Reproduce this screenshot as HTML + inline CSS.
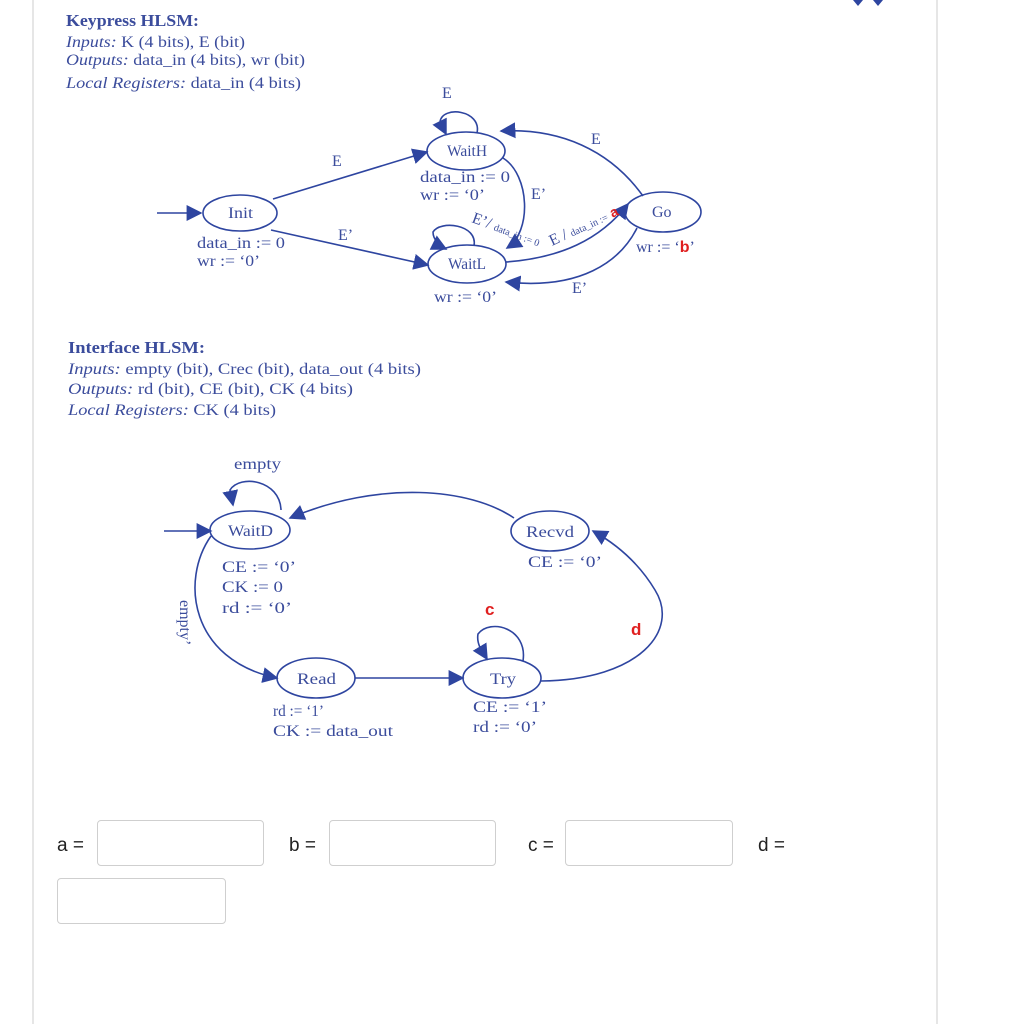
<!DOCTYPE html>
<html><head><meta charset="utf-8"><style>
html,body{margin:0;padding:0;background:#fff;}
body{width:1013px;height:1024px;position:relative;overflow:hidden;}
svg{position:absolute;left:0;top:0;}
.t{font-family:"Liberation Serif",serif;fill:#3b4c9c;font-size:16px;}
.lab{position:absolute;font-family:"Liberation Sans",sans-serif;font-size:19px;color:#222;}
.box{position:absolute;border:1px solid #cfcfcf;border-radius:4px;background:#fff;}
</style></head><body>
<svg width="1013" height="1024" viewBox="0 0 1013 1024">
<defs>
<marker id="ah" viewBox="0 0 10 10" refX="9" refY="5" markerWidth="16" markerHeight="16" markerUnits="userSpaceOnUse" orient="auto"><path d="M0,0 L10,5 L0,10 z" fill="#2e45a0"/></marker>
</defs>
<line x1="33" y1="0" x2="33" y2="1024" stroke="#ddd" stroke-width="1.5"/>
<line x1="937" y1="0" x2="937" y2="1024" stroke="#ddd" stroke-width="1.5"/>
<path d="M853,0 L863,0 L858,6 z M873,0 L883,0 L878,6 z" fill="#2e45a0"/>

<g lengthAdjust="spacingAndGlyphs">
<text class="t" x="66" y="26" style="font-weight:bold;font-size:17px" textLength="133" lengthAdjust="spacingAndGlyphs">Keypress HLSM:</text>
<text class="t" x="66" y="47" textLength="179" lengthAdjust="spacingAndGlyphs"><tspan font-style="italic">Inputs:</tspan> K (4 bits), E (bit)</text>
<text class="t" x="66" y="65" textLength="239" lengthAdjust="spacingAndGlyphs"><tspan font-style="italic">Outputs:</tspan> data_in (4 bits), wr (bit)</text>
<text class="t" x="66" y="88" textLength="235" lengthAdjust="spacingAndGlyphs"><tspan font-style="italic">Local Registers:</tspan> data_in (4 bits)</text>
</g>

<g fill="none" stroke="#2e45a0" stroke-width="1.6">
<ellipse cx="240" cy="213" rx="37" ry="18"/>
<ellipse cx="466" cy="151" rx="39" ry="19"/>
<ellipse cx="467" cy="264" rx="39" ry="19"/>
<ellipse cx="663" cy="212" rx="38" ry="20"/>
<path d="M157,213 L201,213" marker-end="url(#ah)"/>
<path d="M273,199 L427,152" marker-end="url(#ah)"/>
<path d="M271,230 L428,265" marker-end="url(#ah)"/>
<path d="M477,133 C482,110 442,105 440,122 L446,134" marker-end="url(#ah)"/>
<path d="M474,246 C478,224 440,220 433,232 C433,240 440,246 446,249" marker-end="url(#ah)"/>
<path d="M643,196 C610,150 560,128 501,131" marker-end="url(#ah)"/>
<path d="M503,158 C530,175 532,232 507,248" marker-end="url(#ah)"/>
<path d="M506,262 C560,258 600,240 628,204" marker-end="url(#ah)"/>
<path d="M637,228 C620,262 580,290 506,282" marker-end="url(#ah)"/>
</g>
<text class="t" x="228" y="218" textLength="25" lengthAdjust="spacingAndGlyphs">Init</text>
<text class="t" x="447" y="156" textLength="40" lengthAdjust="spacingAndGlyphs">WaitH</text>
<text class="t" x="448" y="269" textLength="38" lengthAdjust="spacingAndGlyphs">WaitL</text>
<text class="t" x="652" y="217">Go</text>
<text class="t" x="197" y="248" textLength="88" lengthAdjust="spacingAndGlyphs">data_in := 0</text>
<text class="t" x="197" y="266" textLength="63" lengthAdjust="spacingAndGlyphs">wr := ‘0’</text>
<text class="t" x="420" y="182" textLength="90" lengthAdjust="spacingAndGlyphs">data_in := 0</text>
<text class="t" x="420" y="200" textLength="65" lengthAdjust="spacingAndGlyphs">wr := ‘0’</text>
<text class="t" x="434" y="302" textLength="63" lengthAdjust="spacingAndGlyphs">wr := ‘0’</text>
<text class="t" x="636" y="252">wr := ‘<tspan fill="#e02020" font-family="Liberation Sans" font-weight="bold">b</tspan>’</text>
<text class="t" x="442" y="98" font-size="13">E</text>
<text class="t" x="332" y="166" font-size="13">E</text>
<text class="t" x="338" y="240" font-size="13">E’</text>
<text class="t" x="591" y="144" font-size="13">E</text>
<text class="t" x="531" y="199" font-size="13">E’</text>
<text class="t" x="572" y="293" font-size="13">E’</text>
<text class="t" x="471" y="222" font-size="13" transform="rotate(20 471 222)">E’/ <tspan font-size="10">data_in := 0</tspan></text>
<text class="t" x="552" y="246" font-size="14" transform="rotate(-25 552 246)">E / <tspan font-size="10">data_in :=</tspan> <tspan fill="#e02020" font-family="Liberation Sans" font-weight="bold" font-size="14">a</tspan></text>

<text class="t" x="68" y="353" style="font-weight:bold;font-size:17px" textLength="137" lengthAdjust="spacingAndGlyphs">Interface HLSM:</text>
<text class="t" x="68" y="374" textLength="353" lengthAdjust="spacingAndGlyphs"><tspan font-style="italic">Inputs:</tspan> empty (bit), Crec (bit), data_out (4 bits)</text>
<text class="t" x="68" y="394" textLength="285" lengthAdjust="spacingAndGlyphs"><tspan font-style="italic">Outputs:</tspan> rd (bit), CE (bit), CK (4 bits)</text>
<text class="t" x="68" y="415" textLength="208" lengthAdjust="spacingAndGlyphs"><tspan font-style="italic">Local Registers:</tspan> CK (4 bits)</text>

<g fill="none" stroke="#2e45a0" stroke-width="1.6">
<ellipse cx="250" cy="530" rx="40" ry="19"/>
<ellipse cx="550" cy="531" rx="39" ry="20"/>
<ellipse cx="316" cy="678" rx="39" ry="20"/>
<ellipse cx="502" cy="678" rx="39" ry="20"/>
<path d="M164,531 L211,531" marker-end="url(#ah)"/>
<path d="M281,510 C280,480 240,474 230,490 L233,505" marker-end="url(#ah)"/>
<path d="M211,536 C180,580 190,660 277,678" marker-end="url(#ah)"/>
<path d="M355,678 L463,678" marker-end="url(#ah)"/>
<path d="M523,661 C528,628 490,618 478,634 C476,645 484,654 487,659" marker-end="url(#ah)"/>
<path d="M541,681 C640,680 680,630 655,590 C640,565 618,545 593,531" marker-end="url(#ah)"/>
<path d="M514,518 C470,488 380,480 290,518" marker-end="url(#ah)"/>
</g>
<text class="t" x="228" y="536" textLength="45" lengthAdjust="spacingAndGlyphs">WaitD</text>
<text class="t" x="526" y="537" textLength="48" lengthAdjust="spacingAndGlyphs">Recvd</text>
<text class="t" x="297" y="684" textLength="39" lengthAdjust="spacingAndGlyphs">Read</text>
<text class="t" x="490" y="684" textLength="26" lengthAdjust="spacingAndGlyphs">Try</text>
<text class="t" x="234" y="469" textLength="47" lengthAdjust="spacingAndGlyphs">empty</text>
<text class="t" x="222" y="572" textLength="74" lengthAdjust="spacingAndGlyphs">CE := ‘0’</text>
<text class="t" x="222" y="592" textLength="61" lengthAdjust="spacingAndGlyphs">CK := 0</text>
<text class="t" x="222" y="613" textLength="70" lengthAdjust="spacingAndGlyphs">rd := ‘0’</text>
<text class="t" x="528" y="567" textLength="74" lengthAdjust="spacingAndGlyphs">CE := ‘0’</text>
<text class="t" x="273" y="716" textLength="51" lengthAdjust="spacingAndGlyphs">rd := ‘1’</text>
<text class="t" x="273" y="736" textLength="120" lengthAdjust="spacingAndGlyphs">CK  := data_out</text>
<text class="t" x="473" y="712" textLength="74" lengthAdjust="spacingAndGlyphs">CE := ‘1’</text>
<text class="t" x="473" y="732" textLength="64" lengthAdjust="spacingAndGlyphs">rd := ‘0’</text>
<text class="t" x="180" y="600" font-size="14" transform="rotate(90 180 600)">empty’</text>
<text x="485" y="615" font-family="Liberation Sans" font-weight="bold" font-size="17" fill="#e02020">c</text>
<text x="631" y="635" font-family="Liberation Sans" font-weight="bold" font-size="17" fill="#e02020">d</text>
</svg>
<div class="lab" style="left:57px;top:835px">a =</div>
<div class="box" style="left:97px;top:820px;width:165px;height:44px"></div>
<div class="lab" style="left:289px;top:835px">b =</div>
<div class="box" style="left:329px;top:820px;width:165px;height:44px"></div>
<div class="lab" style="left:528px;top:835px">c =</div>
<div class="box" style="left:565px;top:820px;width:166px;height:44px"></div>
<div class="lab" style="left:758px;top:835px">d =</div>
<div class="box" style="left:57px;top:878px;width:167px;height:44px"></div>
</body></html>
